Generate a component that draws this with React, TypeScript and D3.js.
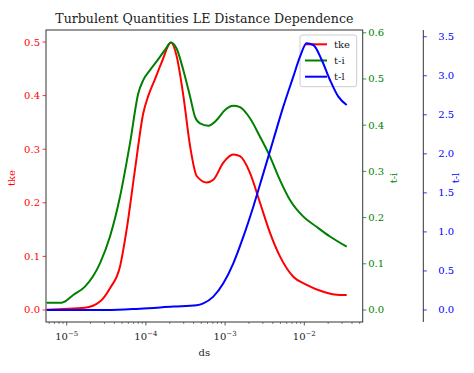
import * as d3 from "d3";

// one ds array per series
const tkeDs = [5.58e-6, 1.7e-5, 2.63e-5, 3.52e-5, 4.71e-5, 5.71e-5, 7.28e-5, 9.29e-5, 1.074e-4, 1.303e-4, 1.58e-4, 2.075e-4, 2.44e-4, 2.97e-4, 3.61e-4, 4.38e-4, 5.85e-4, 7.1e-4, 9.5e-4, 1.27e-3, 1.54e-3, 2.06e-3, 2.76e-3, 3.69e-3, 4.93e-3, 7.26e-3, 1.07e-2, 1.74e-2, 2.82e-2, 3.43e-2];
const tkeValues = [0.0005, 0.004, 0.0156, 0.0406, 0.081, 0.15, 0.262, 0.368, 0.4, 0.431, 0.462, 0.499, 0.474, 0.4, 0.306, 0.25, 0.238, 0.243, 0.275, 0.29, 0.287, 0.256, 0.2, 0.144, 0.1, 0.062, 0.047, 0.034, 0.028, 0.028];

const tiDs = [5.58e-6, 8.64e-6, 1.21e-5, 1.7e-5, 2.63e-5, 3.52e-5, 4.71e-5, 6.3e-5, 8.02e-5, 9.29e-5, 1.127e-4, 1.368e-4, 1.742e-4, 2.075e-4, 2.44e-4, 2.97e-4, 3.61e-4, 4.17e-4, 4.82e-4, 6.14e-4, 7.82e-4, 9.98e-4, 1.27e-3, 1.54e-3, 2.06e-3, 2.76e-3, 3.69e-3, 4.93e-3, 6.59e-3, 9.73e-3, 1.43e-2, 2.11e-2, 3.43e-2];
const tiValues = [0.0159, 0.0159, 0.0325, 0.0505, 0.101, 0.159, 0.245, 0.361, 0.469, 0.498, 0.519, 0.538, 0.563, 0.579, 0.566, 0.519, 0.462, 0.418, 0.404, 0.399, 0.411, 0.433, 0.442, 0.439, 0.415, 0.375, 0.332, 0.281, 0.238, 0.202, 0.18, 0.159, 0.137];

const tlDs = [5.58e-6, 3.2e-5, 8.41e-5, 2.22e-4, 4.38e-4, 5.31e-4, 7.1e-4, 9.5e-4, 1.27e-3, 1.7e-3, 2.27e-3, 3.04e-3, 4.06e-3, 5.43e-3, 7.26e-3, 8.83e-3, 1.07e-2, 1.3e-2, 1.66e-2, 2.11e-2, 2.69e-2, 3.43e-2];
const tlValues = [0.0, 0.0, 0.017, 0.043, 0.06, 0.085, 0.171, 0.342, 0.598, 0.939, 1.323, 1.75, 2.177, 2.604, 2.988, 3.244, 3.415, 3.394, 3.202, 2.946, 2.732, 2.626];

const tkeTicks = [0, 0.1, 0.2, 0.3, 0.4, 0.5];
const tiTicks = [0, 0.1, 0.2, 0.3, 0.4, 0.5, 0.6];
const tlTicks = [0, 0.5, 1.0, 1.5, 2.0, 2.5, 3.0, 3.5];
const decades = [-5, -4, -3, -2];

const series = [
  { name: "tke", color: "red" },
  { name: "t-i", color: "green" },
  { name: "t-l", color: "blue" },
];

const font = "'DejaVu Serif', serif";

export default function App() {
  const W = 474;
  const H = 373;
  const left = 46;
  const right = 362.7;
  const top = 30;
  const bottom = 322;
  const blueAxisX = 423.3;

  const x = d3.scaleLog().domain([5.478e-6, 0.05462]).range([left, right]);
  const yTke = d3.scaleLinear().domain([-0.0225, 0.5225]).range([bottom, top]);
  const yTi = d3.scaleLinear().domain([-0.026, 0.606]).range([bottom, top]);
  const yTl = d3.scaleLinear().domain([-0.154, 3.586]).range([bottom, top]);

  const mkLine = (ys: d3.ScaleLinear<number, number>) =>
    d3
      .line<[number, number]>()
      .x((d) => x(d[0]))
      .y((d) => ys(d[1]))
      .curve(d3.curveMonotoneX);

  const tkePath = mkLine(yTke)(tkeDs.map((d, i) => [d, tkeValues[i]]));
  const tiPath = mkLine(yTi)(tiDs.map((d, i) => [d, tiValues[i]]));
  const tlPath = mkLine(yTl)(tlDs.map((d, i) => [d, tlValues[i]]));

  const xTicks = x.ticks();
  const isMajor = (t: number) => Math.abs(Math.log10(t) - Math.round(Math.log10(t))) < 1e-6;

  const spine = "#333";

  return (
    <svg width={W} height={H} style={{ position: "absolute", left: 0, top: 0 }} fontFamily={font}>
      <rect width={W} height={H} fill="#fff" />
      <defs>
        <clipPath id="plot">
          <rect x={left} y={top} width={right - left} height={bottom - top} />
        </clipPath>
      </defs>

      <text x={(left + right) / 2} y={23} textAnchor="middle" fontSize={12.6} fill="#222">
        Turbulent Quantities LE Distance Dependence
      </text>

      <g clipPath="url(#plot)">
        <path d={tkePath ?? undefined} fill="none" stroke="red" strokeWidth={2} strokeLinejoin="round" />
      </g>

      {/* legend sits under the twin axes lines */}
      <g>
        <rect x={300} y={35} width={56.7} height={51.7} rx={2.5} fill="#fff" fillOpacity={0.8} stroke="#ccc" />
        {series.map((s, i) => (
          <g key={s.name} transform={`translate(0, ${44.3 + i * 16.2})`}>
            <line x1={305} x2={327} y1={0} y2={0} stroke={s.color} strokeWidth={2} />
            <text x={334} y={3.5} fontSize={10} fill="#222">
              {s.name}
            </text>
          </g>
        ))}
      </g>

      <g clipPath="url(#plot)">
        <path d={tiPath ?? undefined} fill="none" stroke="green" strokeWidth={2} strokeLinejoin="round" />
        <path d={tlPath ?? undefined} fill="none" stroke="blue" strokeWidth={2} strokeLinejoin="round" />
      </g>

      {/* frame */}
      <rect x={left} y={top} width={right - left} height={bottom - top} fill="none" stroke={spine} strokeWidth={1} />

      {/* x axis */}
      {xTicks.map((t) => (
        <line
          key={t}
          x1={x(t)}
          x2={x(t)}
          y1={bottom}
          y2={bottom + (isMajor(t) ? 3.5 : 2)}
          stroke={spine}
          strokeWidth={isMajor(t) ? 0.8 : 0.6}
        />
      ))}
      {decades.map((p) => (
        <text key={p} x={x(Math.pow(10, p))} y={340} textAnchor="middle" fontSize={10} fill="#222">
          10
          <tspan fontSize={7} dy={-4.5}>
            {"\u2212" + Math.abs(p)}
          </tspan>
        </text>
      ))}
      <text x={(left + right) / 2} y={356} textAnchor="middle" fontSize={10} fill="#222">
        ds
      </text>

      {/* tke axis */}
      {tkeTicks.map((t) => (
        <g key={t} transform={`translate(${left}, ${yTke(t)})`}>
          <line x1={-3.5} x2={0} stroke="red" strokeWidth={0.8} />
          <text x={-6} y={3.5} textAnchor="end" fontSize={10} fill="red">
            {d3.format(".1f")(t)}
          </text>
        </g>
      ))}
      <text transform={`translate(15, ${(top + bottom) / 2 + 2}) rotate(-90)`} textAnchor="middle" fontSize={10} fill="red">
        tke
      </text>

      {/* t-i axis */}
      {tiTicks.map((t) => (
        <g key={t} transform={`translate(${right}, ${yTi(t)})`}>
          <line x1={0} x2={3.5} stroke="green" strokeWidth={0.8} />
          <text x={5.5} y={3.5} fontSize={10} fill="green">
            {d3.format(".1f")(t)}
          </text>
        </g>
      ))}
      <text transform={`translate(397, ${(top + bottom) / 2 + 2}) rotate(-90)`} textAnchor="middle" fontSize={10} fill="green">
        t-i
      </text>

      {/* t-l axis */}
      <line x1={blueAxisX} x2={blueAxisX} y1={top} y2={bottom} stroke={spine} strokeWidth={1} />
      {tlTicks.map((t) => (
        <g key={t} transform={`translate(${blueAxisX}, ${yTl(t)})`}>
          <line x1={0} x2={3.5} stroke="blue" strokeWidth={0.8} />
          <text x={15} y={3.5} fontSize={10} fill="blue">
            {d3.format(".1f")(t)}
          </text>
        </g>
      ))}
      <text transform={`translate(459, ${(top + bottom) / 2 + 2}) rotate(-90)`} textAnchor="middle" fontSize={10} fill="blue">
        t-l
      </text>
    </svg>
  );
}
